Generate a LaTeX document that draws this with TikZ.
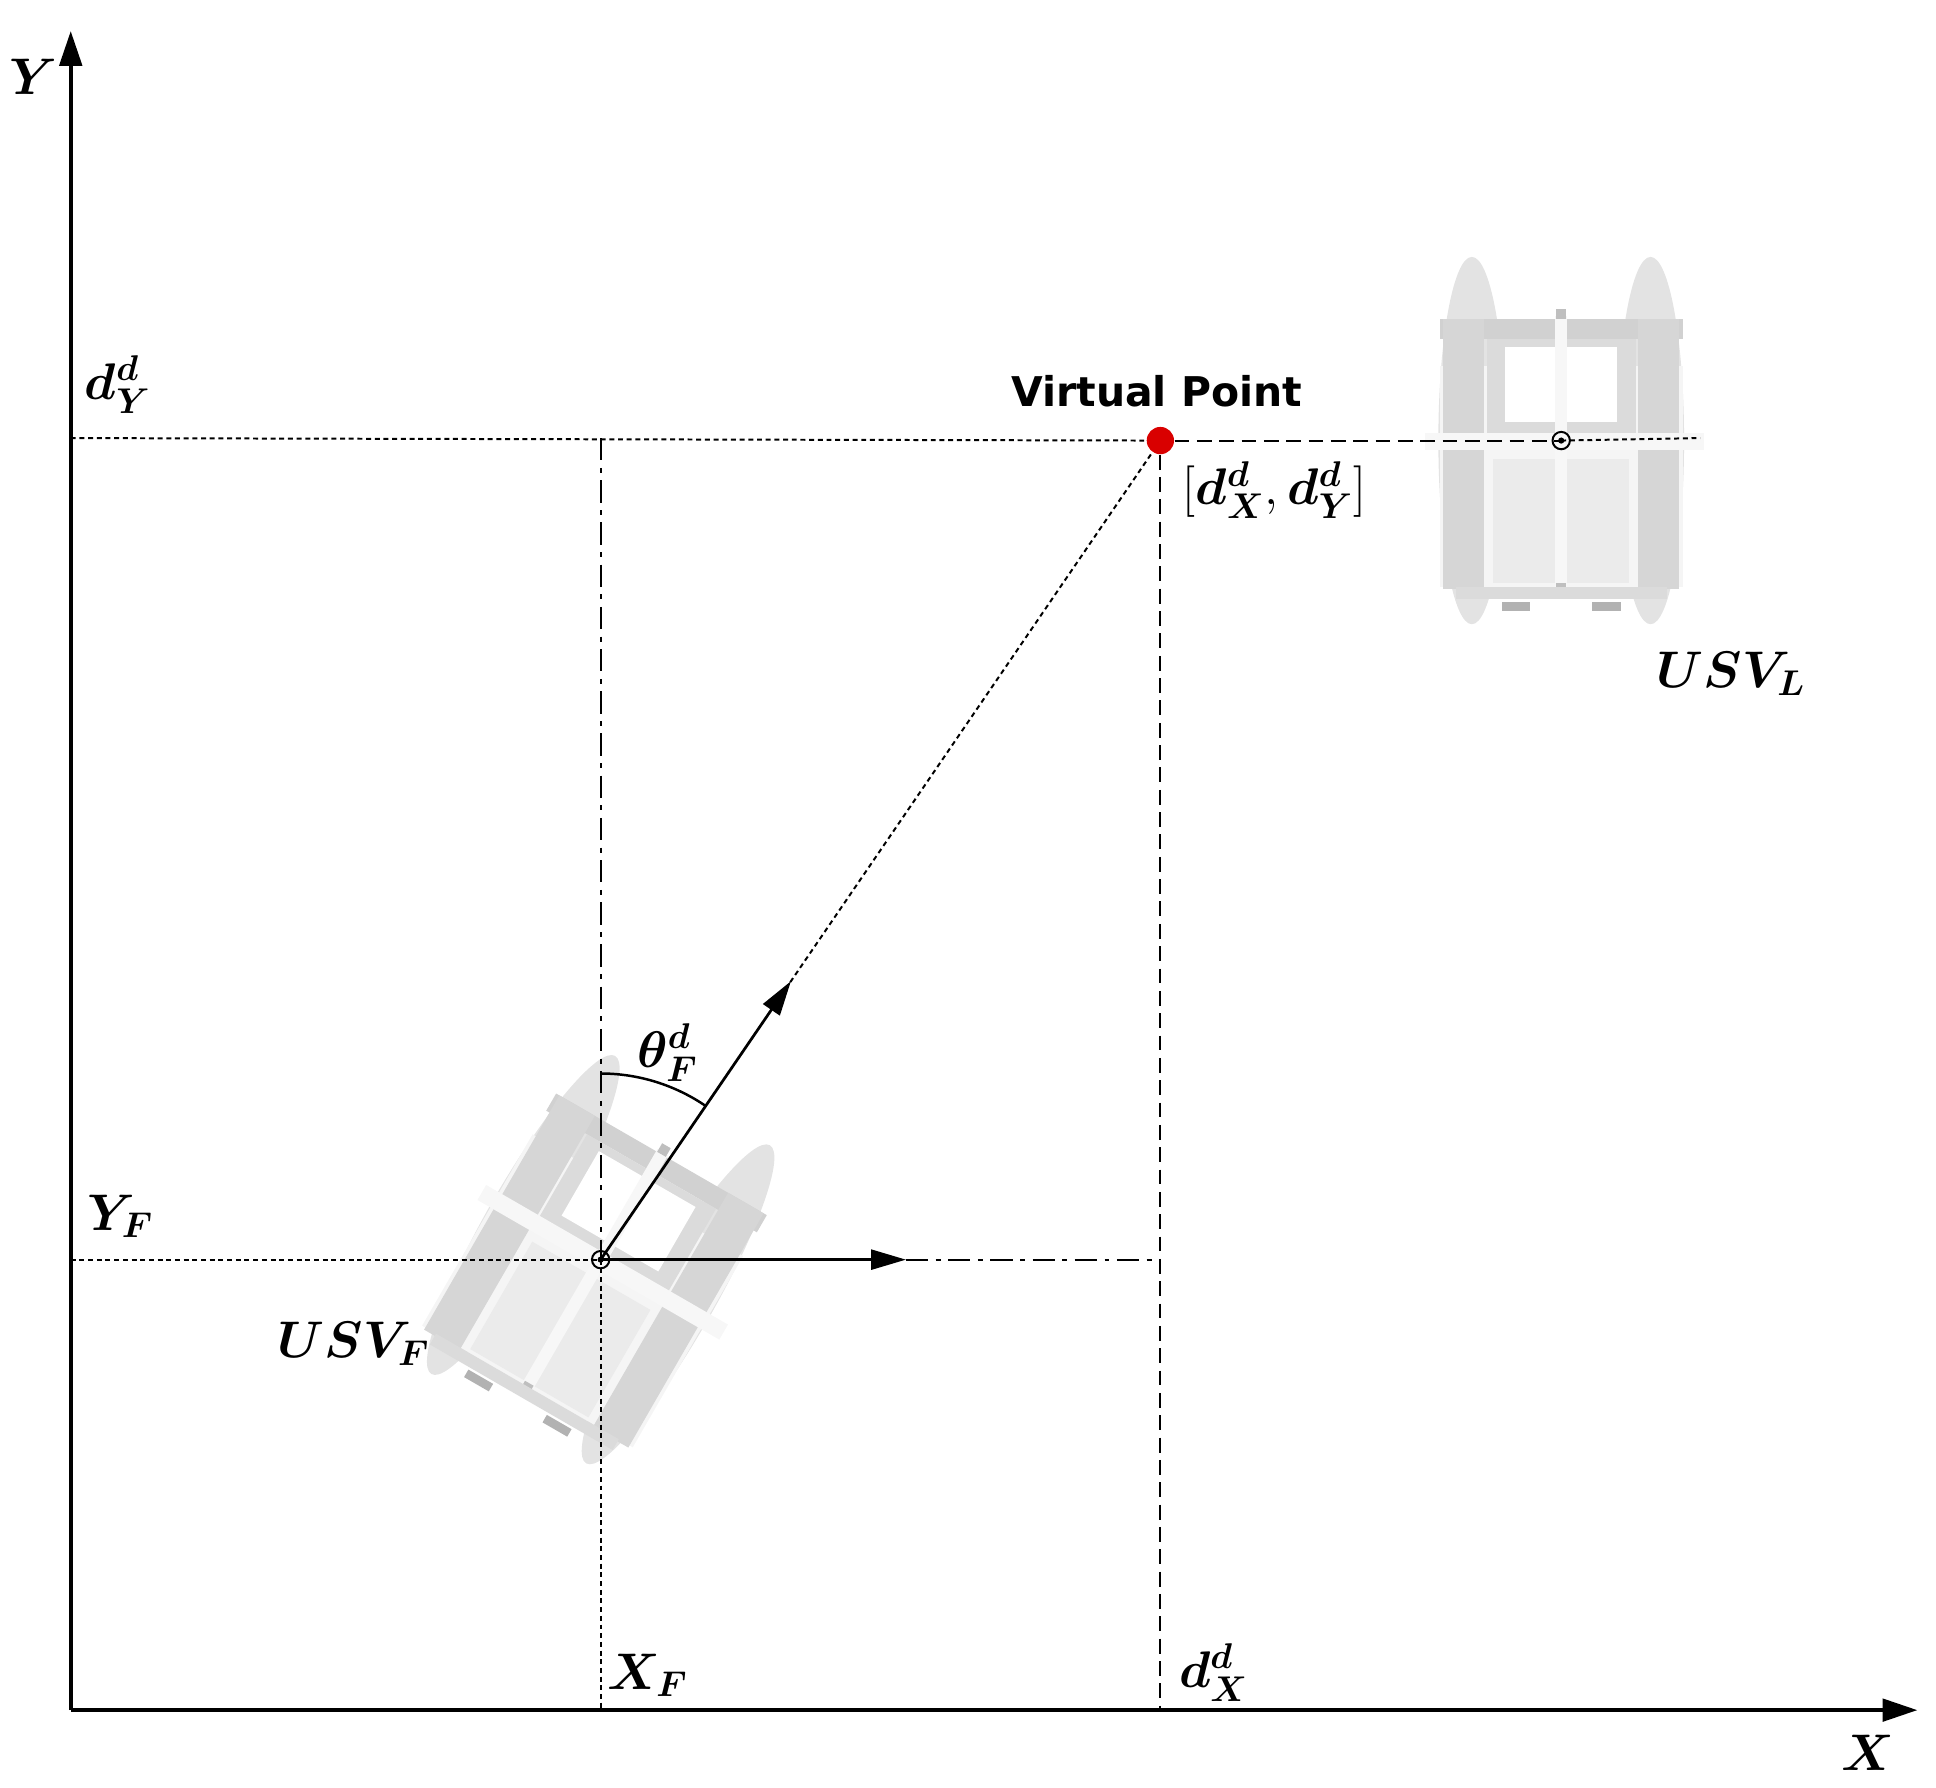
\documentclass[tikz,border=0pt]{standalone}
\usepackage{amsmath,bm}
\usepackage{fontspec}
\newfontfamily\vpfont{DejaVu Sans}
\usetikzlibrary{arrows.meta,calc}
\tikzset{
  lab/.style={font=\fontsize{22}{26}\selectfont},
  ax/.style={line width=1.6pt,-{Triangle[length=14pt,width=9pt]}},
  dotl/.style={line width=0.8pt,dash pattern=on 2pt off 1.5pt},
  dashdot/.style={line width=0.8pt,dash pattern=on 9pt off 3pt on 2pt off 3pt},
  dashl/.style={line width=0.8pt,dash pattern=on 6pt off 3pt},
  boat/.pic={
    \fill[black!11] (-72,0) ellipse (27 and 148);
    \fill[black!11] (72,0) ellipse (27 and 148);
    \fill[black!4] (-98,-60) rectangle (98,118);
    \fill[black!18] (-98,-98) rectangle (98,-82);
    \fill[black!16] (-95,-98) rectangle (-62,120);
    \fill[black!16] (62,-98) rectangle (95,120);
    \fill[black!14] (-60,-82) rectangle (60,-5);
    \fill[white] (-45,-75) rectangle (45,-15);
    \fill[black!8] (-55,15) rectangle (55,115);
    \fill[black!3] (-110,-6) rectangle (115,8);
    \fill[black!3] (-5,-100) rectangle (5,125);
    \fill[black!25] (-4,-106) rectangle (4,-98);
    \fill[black!25] (-4,115) rectangle (4,123);
    \fill[black!14] (-85,118) rectangle (85,128);
    \fill[black!30] (-48,130) rectangle (-25,137);
    \fill[black!30] (25,130) rectangle (48,137);
  }
}
\begin{document}
\begin{tikzpicture}[x=0.5pt,y=-0.5pt]
\useasboundingbox (0,0) rectangle (1560,1440);
% boats
\pic at (1258,355) {boat};
\pic[rotate=-30] at (484,1015) {boat};
% coordinates
\coordinate (O) at (57,1378);
\coordinate (Ytop) at (57,25);
\coordinate (Xend) at (1545,1378);
\coordinate (F) at (484,1015);
\node[circle,fill=red!85!black,inner sep=0pt,minimum size=11pt] (VP) at (935,355) {};
\coordinate (L) at (1258,355);
\coordinate (dyL) at (57,353);
\coordinate (dyR) at (1370,353);
\coordinate (xfT) at (484,353);
\coordinate (xfB) at (484,1378);
\coordinate (dxB) at (935,1378);
\coordinate (yfL) at (57,1015);
\coordinate (Fx) at (730,1015);
\coordinate (dxF) at (935,1015);
% guide lines
\draw[dotl] (dyL) -- (VP);
\draw[dashl] (VP) -- (L);
\draw[dotl] (L) -- (dyR);
\draw[dashdot] (xfT) -- (F);
\draw[dotl] (F) -- (xfB);
\draw[dashl] (VP) -- (dxB);
\draw[dotl] (yfL) -- (F);
\draw[dashdot] (Fx) -- (dxF);
% axes
\draw[ax] (O) -- (Ytop);
\draw[ax] (O) -- (Xend);
% heading vectors
\draw[line width=1.1pt,-{Triangle[length=14pt,width=8pt]}] (F) -- (Fx);
\draw[line width=1.1pt,-{Triangle[length=14pt,width=8pt]}] (F) -- ($(F)!0.34!(VP)$);
\draw[dotl] ($(F)!0.33!(VP)$) -- (VP);
\draw[line width=1pt] (484,865) arc[start angle=-90,end angle=-55.6,radius=150];
\node[circle,draw,line width=0.8pt,inner sep=0pt,minimum size=7pt] at (F) {};
\node[circle,fill=black,inner sep=0pt,minimum size=2.5pt] at (F) {};
\node[circle,draw,line width=0.8pt,inner sep=0pt,minimum size=7pt] at (L) {};
\node[circle,fill=black,inner sep=0pt,minimum size=2.5pt] at (L) {};
% labels
\node[lab] (ly) at (27,62) {$\bm{Y}$};
\node[lab] (lx) at (1505,1412) {$\bm{X}$};
\node[lab] (ldy) at (95,310) {$\bm{d_Y^d}$};
\node[lab] (lyf) at (97,980) {$\bm{Y_F}$};
\node[lab] (lxf) at (522,1350) {$\bm{X_F}$};
\node[lab] (ldx) at (978,1348) {$\bm{d_X^d}$};
\node[lab] (lth) at (538,848) {$\bm{\theta_F^d}$};
\node[font=\fontsize{16.5}{20}\selectfont] (lvp) at (932,315) {\vpfont\bfseries Virtual Point};
\node[lab] (lvc) at (1027,395) {$[\bm{d_X^d},\bm{d_Y^d}]$};
\node[lab] (lul) at (1395,543) {$\bm{USV_L}$};
\node[lab] (luf) at (285,1083) {$\bm{USV_F}$};
\end{tikzpicture}
\end{document}
